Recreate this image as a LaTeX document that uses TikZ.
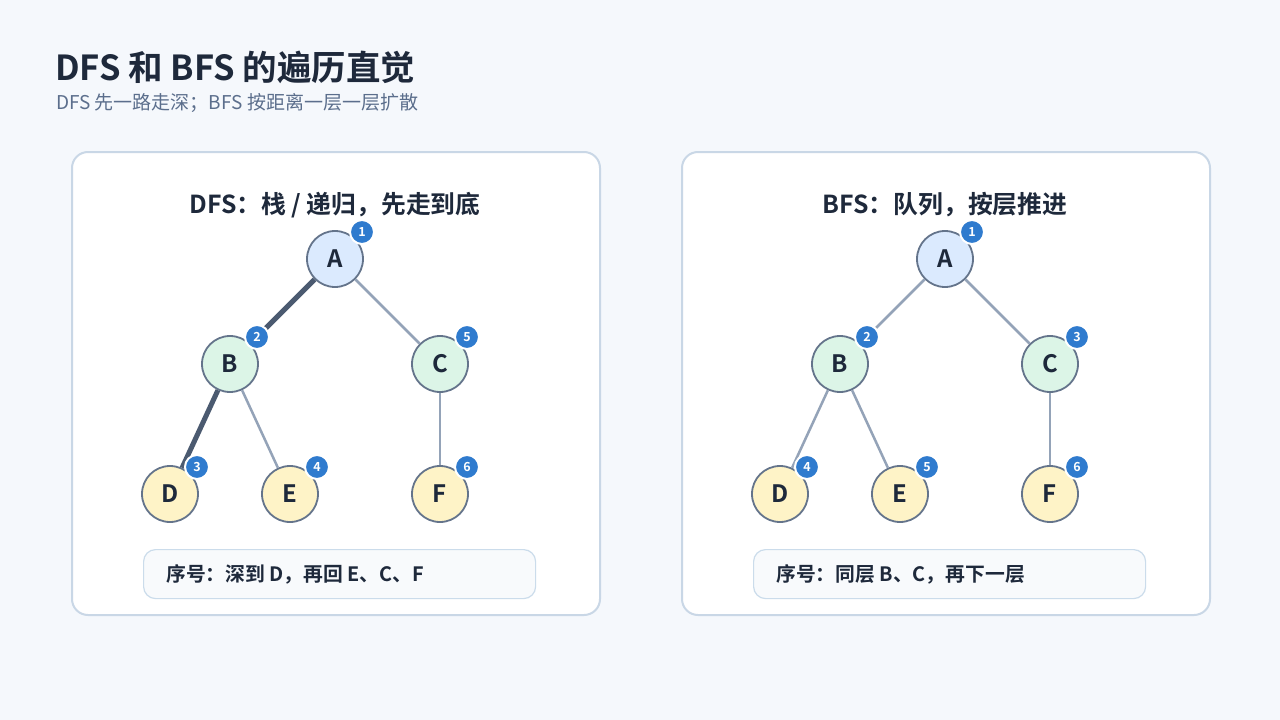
\documentclass[tikz,border=0pt]{standalone}
\usepackage{fontspec}
\setmainfont{Noto Sans CJK SC}[BoldFont={Noto Sans CJK SC Bold}]
\definecolor{bg}{HTML}{F5F8FC}
\definecolor{ink}{HTML}{1E293B}
\definecolor{sub}{HTML}{5B6E8C}
\definecolor{panelline}{HTML}{C9D7E6}
\definecolor{nodeline}{HTML}{64748B}
\definecolor{edge}{HTML}{94A3B8}
\definecolor{deep}{HTML}{4B5A70}
\definecolor{fa}{HTML}{DBEAFE}
\definecolor{fb}{HTML}{DCF5E7}
\definecolor{fd}{HTML}{FEF3C7}
\definecolor{badge}{HTML}{2F7BCE}
\definecolor{boxfill}{HTML}{F8FAFC}
\definecolor{boxline}{HTML}{CBDCEB}
\tikzset{
  panel/.style={draw=panelline, line width=2pt, fill=white, rounded corners=16pt},
  tnode/.style={circle, draw=nodeline, line width=1.8pt, minimum size=56pt, inner sep=0pt, font=\fontsize{24}{26}\selectfont\bfseries, text=ink},
  na/.style={tnode, fill=fa},
  nb/.style={tnode, fill=fb},
  nd/.style={tnode, fill=fd},
  edgeline/.style={draw=edge, line width=2.5pt},
  deepline/.style={draw=deep, line width=5pt},
  badgestyle/.style={circle, fill=badge, draw=white, line width=2pt, minimum size=24pt, inner sep=0pt, text=white, font=\fontsize{12.5}{13}\selectfont\bfseries},
  ptitle/.style={font=\fontsize{24.8}{27}\selectfont\bfseries, text=ink},
  notebox/.style={draw=boxline, line width=1.2pt, fill=boxfill, rounded corners=12pt},
  notetext/.style={font=\fontsize{19.8}{21}\selectfont\bfseries, text=ink, anchor=west, inner sep=0pt}
}
\begin{document}
\begin{tikzpicture}[x=1pt,y=-1pt]
\fill[bg] (0,0) rectangle (1280,720);
\useasboundingbox (0,0) rectangle (1280,720);
\node[anchor=base west, font=\fontsize{34.5}{37}\selectfont\bfseries, text=ink, inner sep=0pt] (title) at (55,80) {DFS 和 BFS 的遍历直觉};
\node[anchor=base west, font=\fontsize{19}{21}\selectfont, text=sub, inner sep=0pt] (subtitle) at (56,109) {DFS 先一路走深；BFS 按距离一层一层扩散};

% Left panel
\node[panel, minimum width=528pt, minimum height=463pt, anchor=north west] (lp) at (71,151) {};
\node[ptitle] (lt) at (335,205) {DFS：栈 / 递归，先走到底};
\node[na] (A) at (335,259) {A};
\node[nb] (B) at (230,364) {B};
\node[nb] (C) at (440,364) {C};
\node[nd] (D) at (170,494) {D};
\node[nd] (E) at (290,494) {E};
\node[nd] (F) at (440,494) {F};
\draw[deepline] (A) -- (B);
\draw[edgeline] (A) -- (C);
\draw[deepline] (B) -- (D);
\draw[edgeline] (B) -- (E);
\draw[edgeline] (C) -- (F);
\node[badgestyle] (bA) at ([shift={(27,-27)}]A.center) {1};
\node[badgestyle] (bB) at ([shift={(27,-27)}]B.center) {2};
\node[badgestyle] (bD) at ([shift={(27,-27)}]D.center) {3};
\node[badgestyle] (bE) at ([shift={(27,-27)}]E.center) {4};
\node[badgestyle] (bC) at ([shift={(27,-27)}]C.center) {5};
\node[badgestyle] (bF) at ([shift={(27,-27)}]F.center) {6};
\node[notebox, minimum width=392pt, minimum height=49pt, anchor=north west] (lbox) at (143,549) {};
\node[notetext] (ltext) at (166,574) {序号：深到 D，再回 E、C、F};

% Right panel
\node[panel, minimum width=528pt, minimum height=463pt, anchor=north west] (rp) at (681,151) {};
\node[ptitle] (rt) at (945,205) {BFS：队列，按层推进};
\node[na] (RA) at (945,259) {A};
\node[nb] (RB) at (840,364) {B};
\node[nb] (RC) at (1050,364) {C};
\node[nd] (RD) at (780,494) {D};
\node[nd] (RE) at (900,494) {E};
\node[nd] (RF) at (1050,494) {F};
\draw[edgeline] (RA) -- (RB);
\draw[edgeline] (RA) -- (RC);
\draw[edgeline] (RB) -- (RD);
\draw[edgeline] (RB) -- (RE);
\draw[edgeline] (RC) -- (RF);
\node[badgestyle] (rbA) at ([shift={(27,-27)}]RA.center) {1};
\node[badgestyle] (rbB) at ([shift={(27,-27)}]RB.center) {2};
\node[badgestyle] (rbC) at ([shift={(27,-27)}]RC.center) {3};
\node[badgestyle] (rbD) at ([shift={(27,-27)}]RD.center) {4};
\node[badgestyle] (rbE) at ([shift={(27,-27)}]RE.center) {5};
\node[badgestyle] (rbF) at ([shift={(27,-27)}]RF.center) {6};
\node[notebox, minimum width=392pt, minimum height=49pt, anchor=north west] (rbox) at (753,549) {};
\node[notetext] (rtext) at (776,574) {序号：同层 B、C，再下一层};
\end{tikzpicture}
\end{document}
